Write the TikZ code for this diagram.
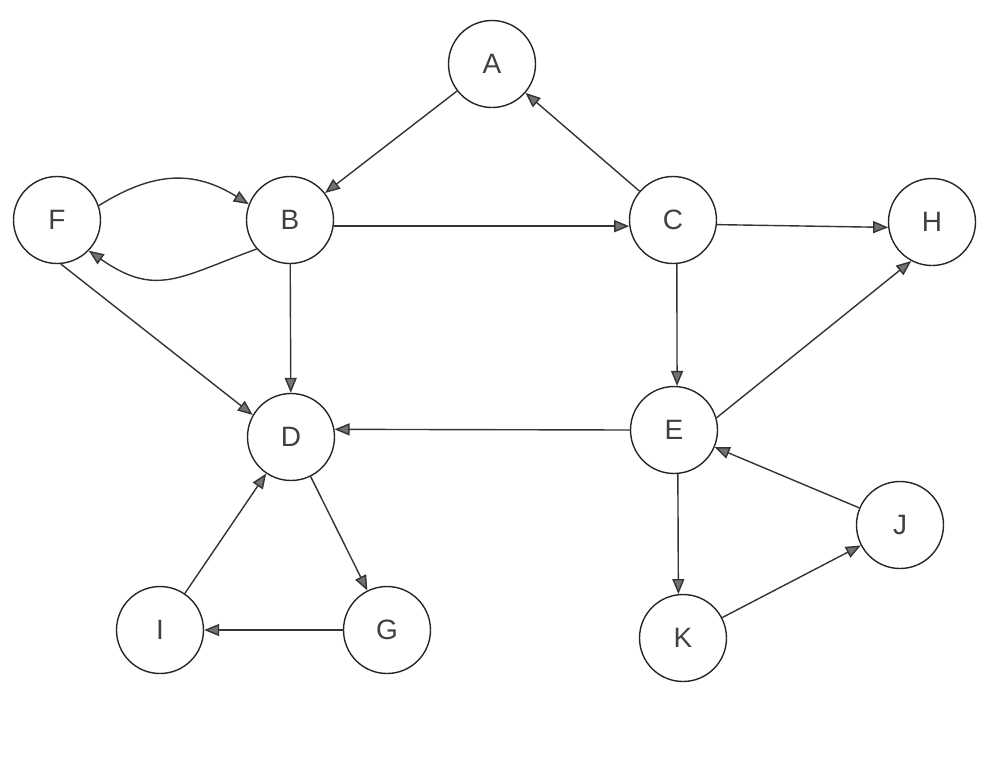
\documentclass[tikz,border=0pt]{standalone}
\usepackage{fontspec}
\setmainfont{Liberation Sans}
\usetikzlibrary{arrows.meta}

\begin{document}
\begin{tikzpicture}[x=1pt,y=-1pt]
  \tikzstyle{every node}=[draw=black!85,circle,line width=1.4pt,minimum size=87pt,inner sep=0pt,text=black!75,font=\fontsize{28}{30}\selectfont]
  \tikzstyle{edge}=[draw=black!80,line width=1.4pt,-{Triangle[length=15pt,width=12pt,fill=black!55]}]
  \useasboundingbox (0,0) rectangle (986,780);
  \node (A) at (492,64) {A};
  \node (F) at (57,220) {F};
  \node (B) at (290,220) {B};
  \node (C) at (673,220) {C};
  \node (H) at (932,222) {H};
  \node (D) at (291,437) {D};
  \node (E) at (674,430) {E};
  \node (J) at (900,525) {J};
  \node (I) at (160,630) {I};
  \node (G) at (387,630) {G};
  \node (K) at (683,638) {K};

  \draw[edge] (A) -- (B);
  \draw[edge] (C) -- (A);
  \draw[edge] (B.-8) -- (C.188);
  \draw[edge] (C.-6) -- (H.187);
  \draw[edge] (F.19) to[out=32,in=148,looseness=1.1] (B.159);
  \draw[edge] (B.221) to[out=200,in=-35,looseness=1.25] (F.316);
  \draw[edge] (F.-85) -- (D.150);
  \draw[edge] (B) -- (D);
  \draw[edge] (C.-85) -- (E.86);
  \draw[edge] (E.16) -- (H.242);
  \draw[edge] (E.west) -- (D.10);
  \draw[edge] (D) -- (G);
  \draw[edge] (G) -- (I);
  \draw[edge] (I) -- (D);
  \draw[edge] (E.-85) -- (K.96);
  \draw[edge] (K) -- (J);
  \draw[edge] (J) -- (E);
\end{tikzpicture}
\end{document}
